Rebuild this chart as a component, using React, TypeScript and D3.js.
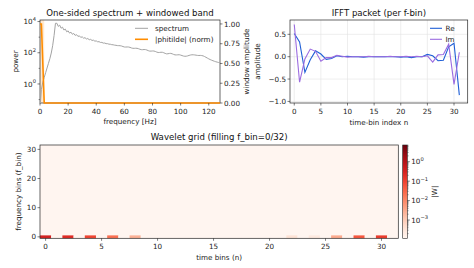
import React from "react";
import * as d3 from "d3";

// one-sided power spectrum, log10(power) at f = 0..128 Hz (1 Hz steps)
const spectrumLog10 = [
  -1.6, -0.35, 0.12, 0.42, 0.72, 1.02, 1.32, 1.62, 1.98, 2.45, 3.1, 3.89,
  3.89, 3.69, 3.77, 3.575, 3.64, 3.46, 3.515, 3.345, 3.4, 3.26, 3.32, 3.185,
  3.235, 3.115, 3.16, 3.047, 3.085, 2.985, 3.022, 2.934, 2.968, 2.884, 2.913,
  2.835, 2.86, 2.79, 2.808, 2.745, 2.758, 2.702, 2.711, 2.66, 2.664, 2.619,
  2.622, 2.585, 2.584, 2.551, 2.546, 2.519, 2.512, 2.489, 2.478, 2.46, 2.456,
  2.452, 2.433, 2.399, 2.37, 2.366, 2.372, 2.368, 2.346, 2.31, 2.286, 2.284,
  2.29, 2.286, 2.262, 2.226, 2.2, 2.198, 2.208, 2.204, 2.176, 2.136, 2.107,
  2.106, 2.115, 2.112, 2.084, 2.044, 2.017, 2.018, 2.032, 2.03, 2.001, 1.959,
  1.93, 1.936, 1.956, 1.96, 1.934, 1.894, 1.864, 1.862, 1.868, 1.874, 1.85,
  1.82, 1.79, 1.775, 1.78, 1.8, 1.83, 1.855, 1.87, 1.87, 1.86, 1.845, 1.83,
  1.825, 1.83, 1.82, 1.8, 1.76, 1.71, 1.66, 1.61, 1.565, 1.525, 1.49, 1.455,
  1.425, 1.4, 1.375, 1.35,
];

// normalised window |phitilde| (zero beyond 3 Hz)
const phiFreqs = [0, 1, 2, 3, 128];
const phiValues = [1, 1, 0.5, 0, 0];
const bandEdges = [0, 3];

// IFFT packet, n = 0..31
const packetRe = [
  0.52, 0.33, -0.35, -0.07, 0.13, 0.06, -0.06, -0.04, 0.02, 0.0, 0.01, 0.0,
  0.0, -0.01, 0.0, 0.0, 0.0, 0.0, 0.0, 0.0, -0.01, 0.0, -0.02, 0.0, 0.0, 0.05,
  0.02, -0.09, -0.08, 0.22, 0.3, -0.86,
];
const packetIm = [
  0.72, -0.57, -0.05, 0.17, 0.12, -0.1, -0.02, -0.02, 0.03, 0.01, -0.01, 0.0,
  0.0, 0.0, 0.01, 0.0, 0.0, 0.0, 0.01, 0.0, 0.0, 0.01, 0.0, 0.01, 0.0, 0.02,
  -0.12, 0.04, 0.05, 0.28, -0.62, 0.1,
];

// |W| on the wavelet grid: only f_bin = 0 is filled
const nTimeBins = 32;
const nFreqBins = 32;
const wRow0 = [
  0.33, 0, 0.21, 0, 0.087, 0, 0.023, 0, 0.0025, 0, 0, 0, 0, 0, 0, 0, 0, 0, 0,
  0, 0, 0, 0.00035, 0, 0.00025, 0, 0.0032, 0, 0.05, 0, 0.12, 0,
];
const wMin = Math.pow(10, -3.94);
const wMax = Math.pow(10, 0.86);

const freqTicks = [0, 20, 40, 60, 80, 100, 120];
const powerTicks = [0, 2, 4];
const windowTicks = [0, 0.25, 0.5, 0.75, 1.0];
const binTicks = [0, 5, 10, 15, 20, 25, 30];
const ampTicks = [-1.0, -0.5, 0.0, 0.5];
const fbinTicks = [0, 10, 20, 30];
const cbarTicks = [-3, -2, -1, 0];

const FONT = "DejaVu Sans, sans-serif";
const FS = 7.2;
const TITLE_FS = 8.6;
const SPINE = "#262626";
const GRAY = "#a3a3a3";
const ORANGE = "#ff8c00";
const RE = "#1f5fd6";
const IM = "#9b6be0";

const fmtMinus = (s: string) => s.replace("-", "\u2212");

function Pow10({ x, y, exp, anchor }: { x: number; y: number; exp: number; anchor: string }) {
  return (
    <text x={x} y={y} fontSize={FS} textAnchor={anchor} fill="#222">
      10
      <tspan dy={-3.2} fontSize={5.2}>
        {fmtMinus(String(exp))}
      </tspan>
    </text>
  );
}

export default function App() {
  // ---------- spectrum panel ----------
  const A = { l: 40, r: 220, t: 20, b: 103 };
  const xA = d3.scaleLinear().domain([0, 128]).range([A.l, A.r]);
  const yA = d3.scaleLog().domain([Math.pow(10, -1.22), Math.pow(10, 4.1)]).range([A.b, A.t]);
  const yA2 = d3.scaleLinear().domain([0, 1.05]).range([A.b, A.t]);

  const specLine = d3
    .line<number>()
    .x((_, i) => xA(i))
    .y((v) => yA(Math.pow(10, v)))(spectrumLog10);
  const phiLine = d3
    .line<number>()
    .x((_, i) => xA(phiFreqs[i]))
    .y((v) => yA2(v))(phiValues);

  // ---------- packet panel ----------
  const B = { l: 290, r: 467.7, t: 20, b: 103 };
  const xB = d3.scaleLinear().domain([-0.8, 32.57]).range([B.l, B.r]);
  const yB = d3.scaleLinear().domain([-1.035, 0.82]).range([B.b, B.t]);
  const packetLine = d3
    .line<number>()
    .x((_, i) => xB(i))
    .y((v) => yB(v));

  // ---------- wavelet grid ----------
  const C = { l: 40, r: 398.3, t: 145, b: 238.3 };
  const xC = d3.scaleLinear().domain([-0.5, nTimeBins - 0.5]).range([C.l, C.r]);
  const yC = d3.scaleLinear().domain([-0.5, nFreqBins - 0.5]).range([C.b, C.t]);
  const cnorm = d3.scaleLog().domain([wMin, wMax]).range([0, 1]).clamp(true);
  const cmap = (v: number) => d3.interpolateReds(v > 0 ? cnorm(v) : 0);
  const cb = { l: 402.7, r: 407.3 };
  const yCb = d3.scaleLog().domain([wMin, wMax]).range([C.b, C.t]);
  const cbSteps = d3.range(0, 1.0001, 0.01);
  const cbMinor: number[] = [];
  for (let e = -4; e <= 0; e++) {
    for (let m = 2; m <= 9; m++) {
      const v = m * Math.pow(10, e);
      if (v > wMin && v < wMax) cbMinor.push(v);
    }
  }

  return (
    <svg
      width={474}
      height={268}
      style={{ position: "absolute", left: 0, top: 0, background: "#fff" }}
      fontFamily={FONT}
    >
      <defs>
        <clipPath id="clipA">
          <rect x={A.l} y={A.t - 1} width={A.r - A.l} height={A.b - A.t + 2} />
        </clipPath>
        <clipPath id="clipB">
          <rect x={B.l} y={B.t} width={B.r - B.l} height={B.b - B.t} />
        </clipPath>
        <linearGradient id="reds" x1="0" y1="1" x2="0" y2="0">
          {cbSteps.map((t) => (
            <stop key={t} offset={t} stopColor={d3.interpolateReds(t)} />
          ))}
        </linearGradient>
      </defs>

      {/* ---------------- spectrum + window ---------------- */}
      <rect
        x={xA(bandEdges[0])}
        y={A.t}
        width={xA(bandEdges[1]) - xA(bandEdges[0])}
        height={A.b - A.t}
        fill={ORANGE}
        opacity={0.18}
      />
      <rect x={A.l} y={A.t} width={A.r - A.l} height={A.b - A.t} fill="none" stroke={SPINE} strokeWidth={0.7} />
      <g clipPath="url(#clipA)">
        <path d={specLine ?? ""} fill="none" stroke={GRAY} strokeWidth={1} />
        <path d={phiLine ?? ""} fill="none" stroke={ORANGE} strokeWidth={1.6} />
      </g>
      {freqTicks.map((t) => (
        <g key={t}>
          <line x1={xA(t)} x2={xA(t)} y1={A.b} y2={A.b + 2.5} stroke={SPINE} strokeWidth={0.6} />
          <text x={xA(t)} y={A.b + 10.5} fontSize={FS} textAnchor="middle" fill="#222">
            {t}
          </text>
        </g>
      ))}
      {[-1, 1, 3].map((e) => (
        <line key={e} x1={A.l - 1.4} x2={A.l} y1={yA(Math.pow(10, e))} y2={yA(Math.pow(10, e))} stroke={SPINE} strokeWidth={0.5} />
      ))}
      {powerTicks.map((e) => (
        <g key={e}>
          <line x1={A.l - 2.5} x2={A.l} y1={yA(Math.pow(10, e))} y2={yA(Math.pow(10, e))} stroke={SPINE} strokeWidth={0.6} />
          <Pow10 x={A.l - 4} y={yA(Math.pow(10, e)) + 2.6} exp={e} anchor="end" />
        </g>
      ))}
      {windowTicks.map((t) => (
        <g key={t}>
          <line x1={A.r} x2={A.r + 2.5} y1={yA2(t)} y2={yA2(t)} stroke={SPINE} strokeWidth={0.6} />
          <text x={A.r + 4} y={yA2(t) + 2.6} fontSize={FS} fill="#222">
            {t.toFixed(2)}
          </text>
        </g>
      ))}
      <text x={(A.l + A.r) / 2} y={15.5} fontSize={TITLE_FS} textAnchor="middle" fill="#111">
        One-sided spectrum + windowed band
      </text>
      <text x={(A.l + A.r) / 2} y={123.5} fontSize={FS} textAnchor="middle" fill="#222">
        frequency [Hz]
      </text>
      <text transform={`translate(17.6,${(A.t + A.b) / 2}) rotate(-90)`} fontSize={FS} textAnchor="middle" fill="#222">
        power
      </text>
      <text transform={`translate(249.3,${(A.t + A.b) / 2}) rotate(-90)`} fontSize={FS} textAnchor="middle" fill="#222">
        window amplitude
      </text>
      {/* legend */}
      <line x1={135} x2={148} y1={28.3} y2={28.3} stroke={GRAY} strokeWidth={1} />
      <text x={155} y={30.9} fontSize={FS} fill="#222">spectrum</text>
      <line x1={135} x2={148} y1={39.3} y2={39.3} stroke={ORANGE} strokeWidth={1.6} />
      <text x={155} y={41.9} fontSize={FS} fill="#222">|phitilde| (norm)</text>

      {/* ---------------- IFFT packet ---------------- */}
      {binTicks.map((t) => (
        <line key={"gx" + t} x1={xB(t)} x2={xB(t)} y1={B.t} y2={B.b} stroke="#e3e3e3" strokeWidth={0.6} />
      ))}
      {ampTicks.map((t) => (
        <line key={"gy" + t} x1={B.l} x2={B.r} y1={yB(t)} y2={yB(t)} stroke="#e3e3e3" strokeWidth={0.6} />
      ))}
      <g clipPath="url(#clipB)">
        <path d={packetLine(packetRe) ?? ""} fill="none" stroke={RE} strokeWidth={1.1} />
        <path d={packetLine(packetIm) ?? ""} fill="none" stroke={IM} strokeWidth={1.1} />
      </g>
      <rect x={B.l} y={B.t} width={B.r - B.l} height={B.b - B.t} fill="none" stroke={SPINE} strokeWidth={0.7} />
      {binTicks.map((t) => (
        <g key={t}>
          <line x1={xB(t)} x2={xB(t)} y1={B.b} y2={B.b + 2.5} stroke={SPINE} strokeWidth={0.6} />
          <text x={xB(t)} y={B.b + 10.5} fontSize={FS} textAnchor="middle" fill="#222">
            {t}
          </text>
        </g>
      ))}
      {ampTicks.map((t) => (
        <g key={t}>
          <line x1={B.l - 2.5} x2={B.l} y1={yB(t)} y2={yB(t)} stroke={SPINE} strokeWidth={0.6} />
          <text x={B.l - 4} y={yB(t) + 2.6} fontSize={FS} textAnchor="end" fill="#222">
            {fmtMinus(t.toFixed(1))}
          </text>
        </g>
      ))}
      <text x={(B.l + B.r) / 2} y={15.5} fontSize={TITLE_FS} textAnchor="middle" fill="#111">
        IFFT packet (per f-bin)
      </text>
      <text x={(B.l + B.r) / 2} y={124.5} fontSize={FS} textAnchor="middle" fill="#222">
        time-bin index n
      </text>
      <text transform={`translate(259.9,${(B.t + B.b) / 2}) rotate(-90)`} fontSize={FS} textAnchor="middle" fill="#222">
        amplitude
      </text>
      <line x1={430} x2={442} y1={28.3} y2={28.3} stroke={RE} strokeWidth={1.1} />
      <text x={445.5} y={30.9} fontSize={FS} fill="#222">Re</text>
      <line x1={430} x2={442} y1={39.3} y2={39.3} stroke={IM} strokeWidth={1.1} />
      <text x={445.5} y={41.9} fontSize={FS} fill="#222">Im</text>

      {/* ---------------- wavelet grid ---------------- */}
      <rect x={C.l} y={C.t} width={C.r - C.l} height={C.b - C.t} fill={cmap(0)} />
      {wRow0.map((v, n) => (
        <rect
          key={n}
          x={xC(n - 0.5)}
          y={yC(0.5)}
          width={xC(n + 0.5) - xC(n - 0.5)}
          height={yC(-0.5) - yC(0.5)}
          fill={cmap(v)}
        />
      ))}
      <rect x={C.l} y={C.t} width={C.r - C.l} height={C.b - C.t} fill="none" stroke={SPINE} strokeWidth={0.7} />
      {binTicks.map((t) => (
        <g key={t}>
          <line x1={xC(t)} x2={xC(t)} y1={C.b} y2={C.b + 2.5} stroke={SPINE} strokeWidth={0.6} />
          <text x={xC(t)} y={C.b + 10.5} fontSize={FS} textAnchor="middle" fill="#222">
            {t}
          </text>
        </g>
      ))}
      {fbinTicks.map((t) => (
        <g key={t}>
          <line x1={C.l - 2.5} x2={C.l} y1={yC(t)} y2={yC(t)} stroke={SPINE} strokeWidth={0.6} />
          <text x={C.l - 4} y={yC(t) + 2.6} fontSize={FS} textAnchor="end" fill="#222">
            {t}
          </text>
        </g>
      ))}
      <text x={(C.l + C.r) / 2} y={140} fontSize={TITLE_FS} textAnchor="middle" fill="#111">
        Wavelet grid (filling f_bin=0/32)
      </text>
      <text x={(C.l + C.r) / 2} y={259.5} fontSize={FS} textAnchor="middle" fill="#222">
        time bins (n)
      </text>
      <text transform={`translate(20.6,${(C.t + C.b) / 2}) rotate(-90)`} fontSize={FS} textAnchor="middle" fill="#222">
        frequency bins (f_bin)
      </text>

      {/* colorbar */}
      <rect x={cb.l} y={C.t} width={cb.r - cb.l} height={C.b - C.t} fill="url(#reds)" />
      <rect x={cb.l} y={C.t} width={cb.r - cb.l} height={C.b - C.t} fill="none" stroke={SPINE} strokeWidth={0.6} />
      {cbMinor.map((v) => (
        <line key={v} x1={cb.r} x2={cb.r + 1.4} y1={yCb(v)} y2={yCb(v)} stroke={SPINE} strokeWidth={0.4} />
      ))}
      {cbarTicks.map((e) => (
        <g key={e}>
          <line x1={cb.r} x2={cb.r + 2.5} y1={yCb(Math.pow(10, e))} y2={yCb(Math.pow(10, e))} stroke={SPINE} strokeWidth={0.6} />
          <Pow10 x={cb.r + 4} y={yCb(Math.pow(10, e)) + 2.6} exp={e} anchor="start" />
        </g>
      ))}
      <text transform={`translate(436.5,${(C.t + C.b) / 2}) rotate(-90)`} fontSize={FS} textAnchor="middle" fill="#222">
        |W|
      </text>
    </svg>
  );
}
